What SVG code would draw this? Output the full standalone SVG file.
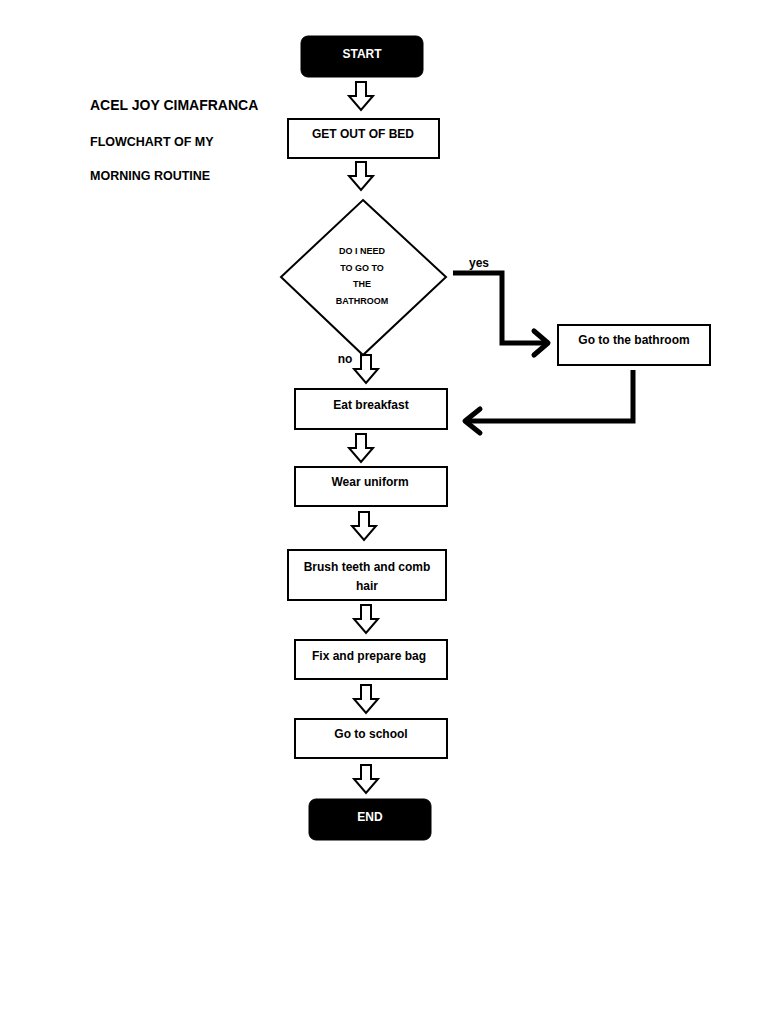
<svg xmlns="http://www.w3.org/2000/svg" width="768" height="1024" viewBox="0 0 768 1024">
<style>
.box{fill:#fff;stroke:#000;stroke-width:2}
.term{fill:#000;stroke:#000;stroke-width:1}
.t{font-family:"Liberation Sans",Arial,sans-serif;font-weight:bold;font-size:12px;text-anchor:middle;fill:#000}
.tw{font-family:"Liberation Sans",Arial,sans-serif;font-weight:bold;font-size:12px;text-anchor:middle;fill:#fff}
.small{font-family:"Liberation Sans",Arial,sans-serif;font-weight:bold;font-size:9px;text-anchor:middle;fill:#000}
.title{font-family:"Liberation Sans",Arial,sans-serif;font-weight:bold;fill:#000}
.blk{fill:#fff;stroke:#000;stroke-width:2;stroke-linejoin:miter}
.thick{fill:none;stroke:#000;stroke-width:5;stroke-linejoin:miter}
.chev{fill:none;stroke:#000;stroke-width:5;stroke-linecap:round;stroke-linejoin:round}
</style>
<defs>
<path id="barrow" class="blk" d="M-5,0 H5 V14 H12 L0,28 L-12,14 H-5 Z"/>
</defs>
<rect width="768" height="1024" fill="#fff"/>

<g id="title">
<text class="title" x="90" y="110" font-size="14">ACEL JOY CIMAFRANCA</text>
<text class="title" x="90" y="146" font-size="12.5">FLOWCHART OF MY</text>
<text class="title" x="90" y="180" font-size="12.5">MORNING ROUTINE</text>
</g>

<g id="connectors">
<use href="#barrow" x="361" y="82"/>
<use href="#barrow" x="361" y="162"/>
<use href="#barrow" x="366" y="355"/>
<use href="#barrow" x="361" y="434"/>
<use href="#barrow" x="364" y="512"/>
<use href="#barrow" x="366" y="605"/>
<use href="#barrow" x="366" y="685"/>
<use href="#barrow" x="366" y="765"/>
<path class="thick" d="M453,273 H502 V343 H546"/>
<path class="chev" d="M534,331 L548,343 L534,355"/>
<path class="thick" d="M633,370 V421 H466"/>
<path class="chev" d="M480,409 L465,421 L480,433"/>
<text class="t" x="479" y="267" font-size="13">yes</text>
<text class="t" x="345" y="363" font-size="13">no</text>
</g>

<g id="start">
<rect class="term" x="301" y="36" width="122" height="41" rx="7"/>
<text class="tw" x="362" y="58">START</text>
</g>

<g id="getoutofbed">
<rect class="box" x="288" y="119" width="151" height="39"/>
<text class="t" x="363" y="138">GET OUT OF BED</text>
</g>

<g id="decision">
<polygon class="box" points="363,200 446,277 363,355 281,277"/>
<text class="small" x="362" y="254">DO I NEED</text>
<text class="small" x="362" y="271">TO GO TO</text>
<text class="small" x="362" y="287">THE</text>
<text class="small" x="362" y="304">BATHROOM</text>
</g>

<g id="bathroom">
<rect class="box" x="558" y="325" width="152" height="40"/>
<text class="t" x="634" y="344">Go to the bathroom</text>
</g>

<g id="breakfast">
<rect class="box" x="295" y="389" width="152" height="40"/>
<text class="t" x="371" y="409">Eat breakfast</text>
</g>

<g id="uniform">
<rect class="box" x="295" y="467" width="152" height="39"/>
<text class="t" x="370" y="486">Wear uniform</text>
</g>

<g id="brush">
<rect class="box" x="288" y="550" width="158" height="50"/>
<text class="t" x="367" y="571">Brush teeth and comb</text>
<text class="t" x="367" y="590">hair</text>
</g>

<g id="bag">
<rect class="box" x="295" y="640" width="152" height="39"/>
<text class="t" x="369" y="660">Fix and prepare bag</text>
</g>

<g id="school">
<rect class="box" x="295" y="719" width="152" height="39"/>
<text class="t" x="371" y="738">Go to school</text>
</g>

<g id="end">
<rect class="term" x="309" y="799" width="122" height="41" rx="7"/>
<text class="tw" x="370" y="821">END</text>
</g>
</svg>
